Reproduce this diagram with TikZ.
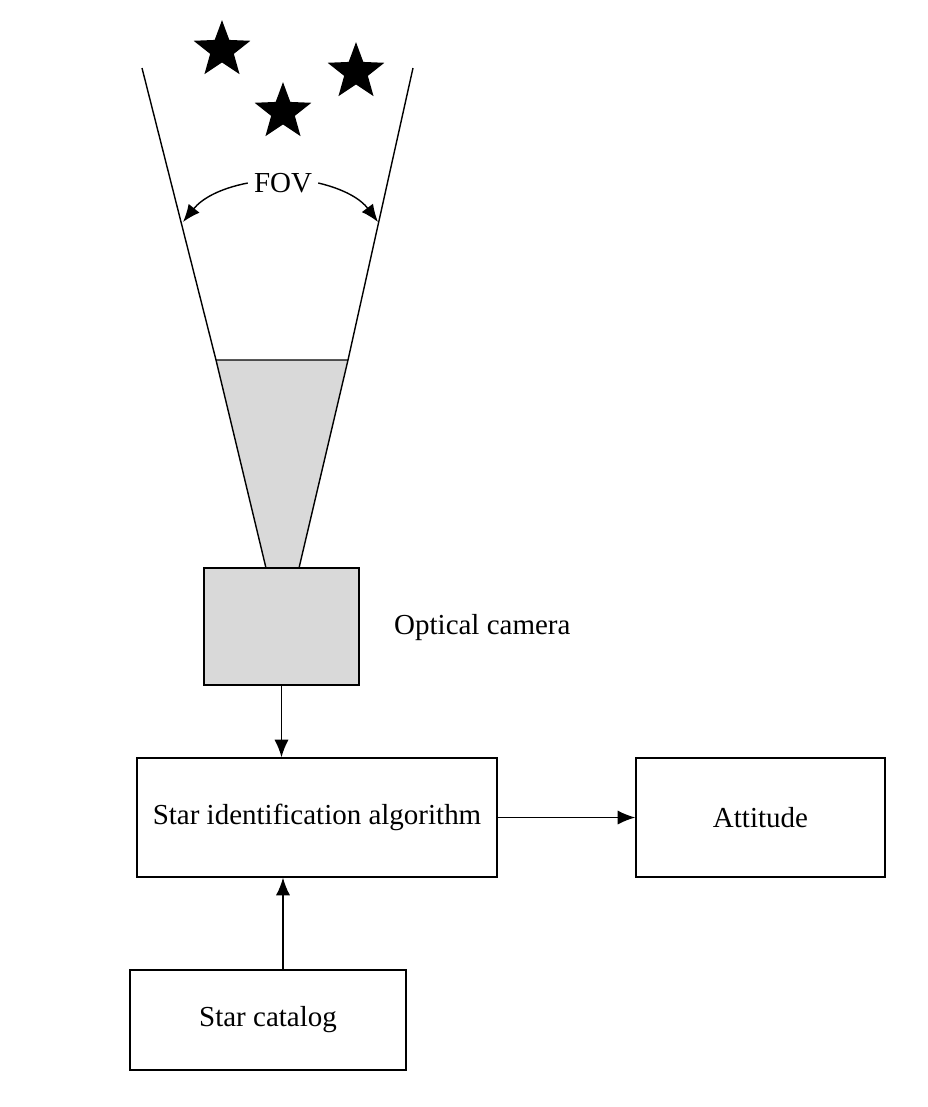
\documentclass[tikz,border=0pt]{standalone}
\usepackage{fontspec}
\setmainfont{Liberation Serif}
\usetikzlibrary{shapes.geometric,arrows.meta}
\begin{document}
\begin{tikzpicture}[x=0.02cm,y=-0.02cm,
  box/.style={draw,thick,inner sep=0pt},
  txt/.style={font=\fontsize{16.5}{20}\selectfont},
  arr/.style={thick,-{Latex[length=10pt,width=8pt]}},
  st/.style={star,star points=5,star point ratio=2.4,fill=black,inner sep=0pt,minimum size=34}]
\useasboundingbox (0,0) rectangle (928,1107);
\draw[thick] (142,68) -- (216,360);
\draw[thick] (413,68) -- (348,360);
\draw[thick,fill=gray!30] (216,360) -- (348,360) -- (299,568) -- (266,568) -- cycle;
\node[st] (s1) at (222,50) {};
\node[st] (s2) at (356,72) {};
\node[st] (s3) at (283,112) {};
\node[txt] (fov) at (283,183) {FOV};
\coordinate (fl) at (183,222);
\coordinate (fr) at (378,222);
\draw[arr] (fov.west) to[bend right=20] (fl);
\draw[arr] (fov.east) to[bend left=20] (fr);
\node[box,fill=gray!30,minimum width=155*0.02cm,minimum height=117*0.02cm] (cam) at (281.5,626.5) {};
\node[txt,anchor=west] (camlbl) at (388,628) {Optical camera};
\node[box,txt,minimum width=360*0.02cm,minimum height=119*0.02cm] (sia) at (317,817.5) {Star identification algorithm};
\node[box,txt,minimum width=249*0.02cm,minimum height=119*0.02cm] (att) at (760.5,817.5) {Attitude};
\node[box,txt,minimum width=276*0.02cm,minimum height=100*0.02cm] (cat) at (268,1020) {Star catalog};
\draw[arr] (cam.south) -- (cam.south |- sia.north);
\draw[arr] (sia.east) -- (att.west);
\draw[arr] (283,970) coordinate (c1) -- (c1 |- sia.south);
\end{tikzpicture}
\end{document}
